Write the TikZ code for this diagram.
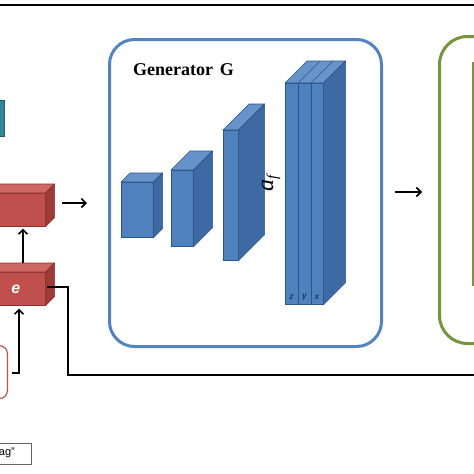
\documentclass[tikz,border=0pt]{standalone}
\usepackage{fontspec}
\setmainfont{Liberation Serif}
\newfontfamily\arialf{Liberation Sans}
\usetikzlibrary{arrows.meta,calc}
\definecolor{redF}{HTML}{C0504D}
\definecolor{redT}{HTML}{CD6865}
\definecolor{redS}{HTML}{9E3A38}
\definecolor{redE}{HTML}{8C3330}
\definecolor{bluF}{HTML}{4F81BD}
\definecolor{bluT}{HTML}{6793CB}
\definecolor{bluS}{HTML}{3D6AA2}
\definecolor{bluE}{HTML}{2C5587}
\definecolor{frameB}{HTML}{5484BF}
\definecolor{frameG}{HTML}{77933C}
\definecolor{tealF}{HTML}{31859C}
\tikzset{
  conn/.style={line width=1.6pt,black},
  arr/.style={conn,-{Straight Barb[length=4.5pt,width=9pt,line width=1.6pt]}},
  redfront/.style={fill=redF,draw=redE,line width=0.6pt,rectangle,inner sep=0pt,anchor=north west},
  blufront/.style={fill=bluF,draw=bluE,line width=0.6pt,rectangle,inner sep=0pt,anchor=north west},
  redtop/.style={fill=redT,draw=redE,line width=0.6pt,line join=round},
  redside/.style={fill=redS,draw=redE,line width=0.6pt,line join=round},
  blutop/.style={fill=bluT,draw=bluE,line width=0.6pt,line join=round},
  bluside/.style={fill=bluS,draw=bluE,line width=0.6pt,line join=round},
  genframe/.style={draw=frameB,line width=3pt,rounded corners=25pt},
  grnframe/.style={draw=frameG,line width=3pt,rounded corners=28pt},
  slablabel/.style={font=\arialf\bfseries\itshape\fontsize{8.5}{8.5}\selectfont,text=bluE!70!black,inner sep=0pt},
}
% \boxdepth{name}{d}{topstyle}{sidestyle}
\newcommand{\boxdepth}[4]{%
  \path[#3] (#1.north west) -- ++(#2,-#2) -- ($(#1.north east)+(#2,-#2)$) -- (#1.north east) -- cycle;
  \path[#4] (#1.north east) -- ++(#2,-#2) -- ($(#1.south east)+(#2,-#2)$) -- (#1.south east) -- cycle;
}
\begin{document}
\begin{tikzpicture}[x=1pt,y=-1pt]
\useasboundingbox (0,0) rectangle (474,474);
\clip (0,0) rectangle (474,474);
\fill[white] (0,0) rectangle (474,474);
% top rule
\draw[line width=1.5pt] (-5,5) -- (480,5);
% teal block
\node[fill=tealF,draw=tealF!70!black,line width=0.6pt,rectangle,inner sep=0pt,minimum width=14pt,minimum height=36pt,anchor=north west] (teal) at (-10,100) {};
% red blocks
\node[redfront,minimum width=69pt,minimum height=33pt] (red1) at (-24,193) {};
\boxdepth{red1}{9}{redtop}{redside}
\node[redfront,minimum width=59pt,minimum height=33pt,text=white,font=\arialf\bfseries\itshape\fontsize{16}{16}\selectfont] (e) at (-14,272) {e};
\boxdepth{e}{9}{redtop}{redside}
% rounded red input box
\node[draw=redF,line width=1.2pt,rounded corners=8pt,fill=white,minimum width=30pt,minimum height=53pt,anchor=north east] (inp) at (8,345) {};
% bottom text box
\node[draw=black!60,line width=1pt,fill=white,minimum width=40pt,minimum height=21pt,anchor=north east,inner sep=0pt] (lbl) at (32,443) {};
\node[font=\arialf\fontsize{11}{11}\selectfont,anchor=east,inner sep=0pt] (lbltxt) at (15,453) {ag”};
% connectors on the left
\coordinate (inpout) at (12,373);
\draw[arr] (inpout) -- (19,373) -- ([xshift=33pt,yshift=-3pt]e.south west);
\draw[arr] ([xshift=37pt,yshift=9pt]e.north west) -- ([xshift=47pt,yshift=-2pt]red1.south west);
\coordinate (far) at (480,375);
\draw[conn] ([xshift=1pt,yshift=-15pt]e.north east) -| (68,375) -- (far);
\coordinate (a1s) at (62,203);
\coordinate (a1e) at (87,203);
\draw[arr] (a1s) -- (a1e);
% generator frame
\node[genframe,minimum width=272pt,minimum height=307pt,anchor=north west] (gen) at (108,38) {};
\node[font=\bfseries\fontsize{18}{18}\selectfont,anchor=base west,inner sep=0pt] (gtitle) at (133,75) {Generator\hspace{0.12em} G};
% cubes
\node[blufront,minimum width=32pt,minimum height=55pt] (c1) at (121,182) {};
\boxdepth{c1}{9}{blutop}{bluside}
\node[blufront,minimum width=22pt,minimum height=76pt] (c2) at (171,170) {};
\boxdepth{c2}{19}{blutop}{bluside}
\node[blufront,minimum width=15pt,minimum height=130pt] (c3) at (223,130) {};
\boxdepth{c3}{26}{blutop}{bluside}
\node[blufront,minimum width=38pt,minimum height=221pt] (c4) at (285,83) {};
\boxdepth{c4}{22}{blutop}{bluside}
\draw[bluE,line width=0.6pt] (298,83) -- ++(22,-22) (311,83) -- ++(22,-22);
\draw[bluE,line width=0.6pt] (298,83) -- (298,304) (311,83) -- (311,304);
\node[slablabel] (lz) at (291.5,297) {z};
\node[slablabel] (ly) at (304.5,297) {y};
\node[slablabel] (lx) at (317,297) {x};
\node[rotate=90,font=\itshape\fontsize{24}{24}\selectfont,inner sep=0pt] (af) at (271,183) {a\raisebox{-4pt}{\fontsize{15}{15}\selectfont f}};
% arrow to discriminator
\coordinate (a2s) at (395,192);
\coordinate (a2e) at (422,192);
\draw[arr] (a2s) -- (a2e);
% green frame
\node[grnframe,minimum width=100pt,minimum height=307pt,anchor=north west] (grn) at (438,35) {};
\node[draw=frameG,line width=3pt,minimum width=60pt,minimum height=221pt,anchor=north west,inner sep=0pt] (grnin) at (472,62) {};
\end{tikzpicture}
\end{document}
